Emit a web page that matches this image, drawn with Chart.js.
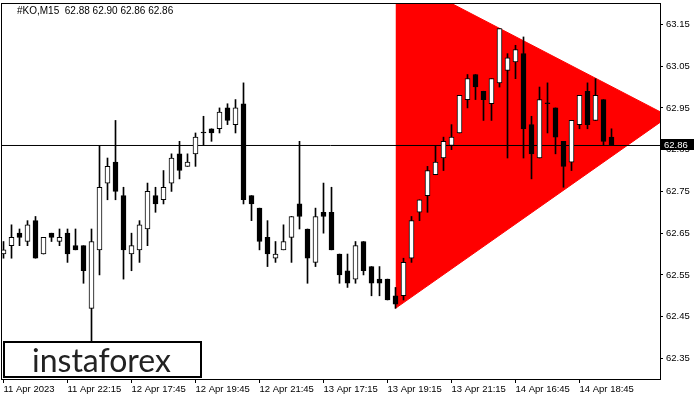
<!DOCTYPE html>
<html>
<head>
<meta charset="utf-8">
<script src="https://cdn.jsdelivr.net/npm/chart.js@4.4.0/dist/chart.umd.min.js"></script>
<style>
  html, body { margin: 0; padding: 0; background: #fff; }
  #wrap { position: relative; width: 700px; height: 400px; overflow: hidden; }
  #title { position: absolute; left: 17px; top: 6px; font: 10px 'Liberation Sans', sans-serif; line-height: 10px; color: #000; white-space: pre; }
  #logo { position: absolute; left: 3px; top: 341px; width: 195px; height: 33px; border: 2px solid #000; background: #fff; }
  #logo span { position: absolute; left: 27px; top: 1px; font: 32px Lato, sans-serif; line-height: 32px; color: #222; }
</style>
</head>
<body>
<div id="wrap">
  <canvas id="chart" width="700" height="400"></canvas>
  <div id="title">#KO,M15  62.88 62.90 62.86 62.86</div>
  <div id="logo"><span>instaforex</span></div>
</div>
<script>
// velas M15, una por cada 15 minutos
const opens = [62.60,62.62,62.65,62.63,62.68,62.60,62.65,62.63,62.65,62.62,
  62.62,62.47,62.61,62.77,62.82,62.74,62.60,62.61,62.66,62.74,
  62.73,62.77,62.84,62.81,62.84,62.89,62.90,62.90,62.95,62.91,
  62.96,62.74,62.71,62.64,62.59,62.61,62.64,62.72,62.66,62.58,
  62.70,62.70,62.60,62.56,62.54,62.63,62.57,62.54,62.54,62.50,
  62.50,62.59,62.70,62.74,62.79,62.83,62.86,62.89,62.97,63.03,
  62.99,62.96,63.01,63.04,63.06,63.08,62.91,62.83,62.96,62.95,
  62.87,62.82,62.91,62.99,62.92,62.97,62.88];
const highs = [62.63,62.67,62.66,62.68,62.69,62.64,62.65,62.66,62.66,62.66,
  62.62,62.66,62.86,62.83,62.92,62.76,62.65,62.68,62.77,62.76,
  62.80,62.84,62.87,62.84,62.89,62.93,62.90,62.95,62.96,62.97,
  63.01,62.74,62.71,62.68,62.63,62.67,62.69,62.87,62.66,62.71,
  62.77,62.76,62.60,62.60,62.63,62.63,62.57,62.57,62.54,62.52,
  62.59,62.69,62.73,62.81,62.86,62.88,62.91,62.98,63.03,63.03,
  62.99,63.02,63.14,63.08,63.10,63.12,62.93,63.00,63.01,62.95,
  62.87,62.92,62.98,63.01,63.02,62.97,62.90];
const lows = [62.59,62.59,62.62,62.62,62.59,62.60,62.63,62.62,62.58,62.61,
  62.53,62.39,62.55,62.73,62.73,62.54,62.56,62.58,62.62,62.70,
  62.72,62.75,62.78,62.81,62.81,62.86,62.87,62.89,62.91,62.89,
  62.72,62.68,62.61,62.57,62.58,62.61,62.58,62.66,62.53,62.57,
  62.65,62.61,62.53,62.52,62.53,62.55,62.50,62.50,62.49,62.47,
  62.49,62.58,62.68,62.70,62.79,62.80,62.85,62.89,62.95,62.97,
  62.92,62.92,63.00,62.83,63.02,62.83,62.78,62.83,62.89,62.84,
  62.76,62.80,62.90,62.90,62.92,62.86,62.86];
const closes = [62.61,62.64,62.64,62.67,62.59,62.64,62.64,62.64,62.60,62.61,
  62.56,62.63,62.76,62.81,62.75,62.61,62.62,62.67,62.75,62.72,
  62.76,62.83,62.80,62.82,62.88,62.89,62.89,62.94,62.92,62.95,
  62.73,62.72,62.63,62.60,62.60,62.63,62.69,62.69,62.59,62.69,
  62.69,62.61,62.55,62.53,62.62,62.56,62.53,62.53,62.49,62.48,
  62.58,62.68,62.73,62.80,62.82,62.87,62.88,62.98,63.02,63.00,
  62.97,63.02,63.14,63.07,63.09,62.90,62.84,62.97,62.96,62.88,
  62.81,62.92,62.98,62.91,62.98,62.87,62.86];

// etiquetas del eje de tiempo, una cada 8 velas
const xLabels = ['11 Apr 2023','11 Apr 22:15','12 Apr 17:45','12 Apr 19:45','12 Apr 21:45',
  '13 Apr 17:15','13 Apr 19:15','13 Apr 21:15','14 Apr 16:45','14 Apr 18:45'];
const yTicks = [62.35,62.45,62.55,62.65,62.75,62.85,62.95,63.05,63.15];

// triángulo simétrico (patrón)
const patternX = [49, 83.16];
const patternUpper = [63.27, 62.93];
const patternLower = [62.47, 62.93];

const lastPrice = closes[closes.length - 1];
const xMin = -0.3125, xMax = xMin + 659 / 8;
const FONT = { family: 'Liberation Sans', size: 9.5 };

const bodies = opens.map((o, i) => ({ x: i, y: [o, closes[i]] }));
const wicks = opens.map((o, i) => ({ x: i, y: [lows[i], highs[i]] }));

const frame = {
  id: 'frame',
  afterDatasetsDraw(chart) {
    const { ctx, chartArea: a } = chart;
    ctx.save();
    ctx.strokeStyle = '#000';
    ctx.lineWidth = 1;
    ctx.strokeRect(a.left + 0.5, a.top + 0.5, a.right - a.left, a.bottom - a.top);
    ctx.restore();
  }
};

const priceTag = {
  id: 'priceTag',
  afterDraw(chart) {
    const { ctx, chartArea, scales: { y } } = chart;
    const py = Math.round(y.getPixelForValue(lastPrice));
    ctx.save();
    ctx.fillStyle = '#000';
    ctx.fillRect(chartArea.right + 1, py - 6, 33, 11);
    ctx.fillStyle = '#fff';
    ctx.font = '9.5px "Liberation Sans"';
    ctx.textBaseline = 'middle';
    ctx.fillText(lastPrice.toFixed(2), chartArea.right + 4, py);
    ctx.restore();
  }
};

new Chart(document.getElementById('chart'), {
  type: 'bar',
  data: {
    datasets: [
      {
        data: bodies,
        backgroundColor: c => closes[c.dataIndex] > opens[c.dataIndex] ? '#ffffff' : '#000000',
        borderColor: '#000',
        borderWidth: 1,
        borderSkipped: false,
        barThickness: 5,
        minBarLength: 1,
        grouped: false,
        order: 1
      },
      {
        data: wicks,
        backgroundColor: '#000',
        borderWidth: 0,
        barThickness: 1,
        grouped: false,
        order: 2
      },
      {
        type: 'line',
        data: [{ x: xMin, y: lastPrice }, { x: xMax, y: lastPrice }],
        borderColor: '#000',
        borderWidth: 1,
        pointRadius: 0,
        order: 3
      },
      {
        type: 'line',
        data: patternX.map((x, i) => ({ x, y: patternUpper[i] })),
        borderColor: '#ff0000',
        borderWidth: 1,
        backgroundColor: '#ff0000',
        pointRadius: 0,
        fill: '+1',
        order: 4
      },
      {
        type: 'line',
        data: patternX.map((x, i) => ({ x, y: patternLower[i] })),
        borderColor: '#ff0000',
        borderWidth: 1,
        pointRadius: 0,
        fill: false,
        order: 5
      }
    ]
  },
  options: {
    responsive: false,
    animation: false,
    devicePixelRatio: 1,
    layout: { padding: { left: 1, top: 3, right: 0, bottom: 0 } },
    plugins: { legend: { display: false }, tooltip: { enabled: false }, title: { display: false } },
    scales: {
      x: {
        type: 'linear',
        min: xMin,
        max: xMax,
        offset: false,
        afterBuildTicks: s => { s.ticks = xLabels.map((_, k) => ({ value: k * 8 })); },
        afterFit: s => { s.height = 21; s.paddingLeft = 0; s.paddingRight = 0; },
        grid: { display: true, drawOnChartArea: false, tickLength: 4, color: '#000', offset: false },
        border: { display: false },
        ticks: {
          autoSkip: false, maxRotation: 0, align: 'start', padding: 1,
          color: '#000', font: FONT,
          callback: (v, i) => xLabels[i]
        }
      },
      y: {
        position: 'right',
        min: 62.3007,
        max: 63.2013,
        afterBuildTicks: s => { s.ticks = yTicks.map(v => ({ value: v })); },
        afterFit: s => { s.width = 40; s.paddingTop = 0; s.paddingBottom = 0; },
        grid: { display: true, drawOnChartArea: false, tickLength: 3, color: '#000' },
        border: { display: false },
        ticks: { padding: 3, color: '#000', font: FONT, callback: v => v.toFixed(2) }
      }
    }
  },
  plugins: [frame, priceTag]
});
</script>
</body>
</html>
